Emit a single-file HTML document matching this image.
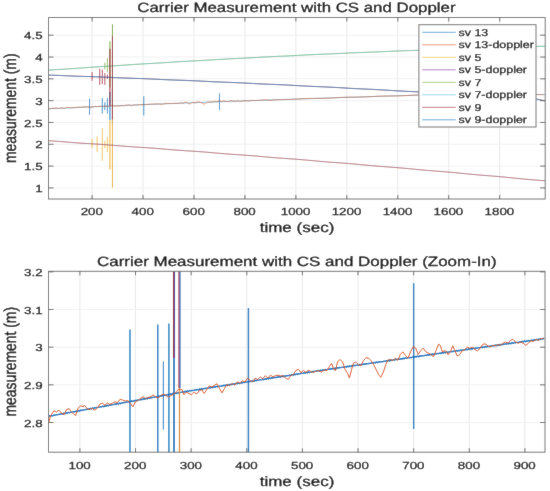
<!DOCTYPE html>
<html><head><meta charset="utf-8"><title>Carrier Measurement with CS and Doppler</title>
<style>html,body{margin:0;padding:0;background:#fff}svg{display:block}</style></head>
<body>
<svg width="550" height="491" viewBox="0 0 550 491" font-family="'Liberation Sans', Arial, sans-serif" text-rendering="geometricPrecision">
<rect width="550" height="491" fill="#fff"/>
<filter id="soft" x="0" y="0" width="550" height="491" filterUnits="userSpaceOnUse"><feConvolveMatrix order="3" kernelMatrix="0.012 0.055 0.012 0.055 0.732 0.055 0.012 0.055 0.012" divisor="1" edgeMode="duplicate" preserveAlpha="true"/></filter>
<g filter="url(#soft)">
<rect width="550" height="491" fill="#fff"/>
<defs><clipPath id="c1"><rect x="48.50" y="17.50" width="496.70" height="181.50"/></clipPath><clipPath id="c2"><rect x="48.50" y="271.30" width="496.50" height="180.90"/></clipPath></defs>
<line x1="92.09" y1="17.50" x2="92.09" y2="199.00" stroke="#e9e9e9" stroke-width="1" />
<line x1="143.04" y1="17.50" x2="143.04" y2="199.00" stroke="#e9e9e9" stroke-width="1" />
<line x1="193.99" y1="17.50" x2="193.99" y2="199.00" stroke="#e9e9e9" stroke-width="1" />
<line x1="244.94" y1="17.50" x2="244.94" y2="199.00" stroke="#e9e9e9" stroke-width="1" />
<line x1="295.89" y1="17.50" x2="295.89" y2="199.00" stroke="#e9e9e9" stroke-width="1" />
<line x1="346.84" y1="17.50" x2="346.84" y2="199.00" stroke="#e9e9e9" stroke-width="1" />
<line x1="397.79" y1="17.50" x2="397.79" y2="199.00" stroke="#e9e9e9" stroke-width="1" />
<line x1="448.74" y1="17.50" x2="448.74" y2="199.00" stroke="#e9e9e9" stroke-width="1" />
<line x1="499.69" y1="17.50" x2="499.69" y2="199.00" stroke="#e9e9e9" stroke-width="1" />
<line x1="48.50" y1="187.91" x2="545.20" y2="187.91" stroke="#f1f1f1" stroke-width="1" />
<line x1="48.50" y1="166.09" x2="545.20" y2="166.09" stroke="#f1f1f1" stroke-width="1" />
<line x1="48.50" y1="144.28" x2="545.20" y2="144.28" stroke="#f1f1f1" stroke-width="1" />
<line x1="48.50" y1="122.46" x2="545.20" y2="122.46" stroke="#f1f1f1" stroke-width="1" />
<line x1="48.50" y1="100.65" x2="545.20" y2="100.65" stroke="#f1f1f1" stroke-width="1" />
<line x1="48.50" y1="78.83" x2="545.20" y2="78.83" stroke="#f1f1f1" stroke-width="1" />
<line x1="48.50" y1="57.02" x2="545.20" y2="57.02" stroke="#f1f1f1" stroke-width="1" />
<line x1="48.50" y1="35.20" x2="545.20" y2="35.20" stroke="#f1f1f1" stroke-width="1" />
<g clip-path="url(#c1)">
<polyline points="48.53,108.83 50.05,108.75 51.58,108.68 53.11,108.61 54.64,108.54 56.17,108.47 57.70,108.40 59.22,108.33 60.75,108.26 62.28,108.19 63.81,108.12 65.34,108.05 66.87,107.98 68.40,107.91 69.92,107.84 71.45,107.77 72.98,107.70 74.51,107.63 76.04,107.56 77.57,107.49 79.10,107.42 80.62,107.35 82.15,107.28 83.68,107.21 85.21,107.14 86.74,107.07 88.27,107.00 89.79,106.93 91.32,106.86 92.85,106.79 94.38,106.72 95.91,106.65 97.44,106.58 98.97,106.51 100.49,106.44 102.02,106.37 103.55,106.30 105.08,106.23 106.61,106.16 108.14,106.10 109.67,106.03 111.19,105.96 112.72,105.89 114.25,105.82 115.78,105.75 117.31,105.69 118.84,105.63 120.36,105.57 121.89,105.51 123.42,105.45 124.95,105.39 126.48,105.33 128.01,105.27 129.54,105.21 131.06,105.15 132.59,105.09 134.12,105.03 135.65,104.97 137.18,104.91 138.71,104.85 140.24,104.79 141.76,104.73 143.29,104.67 144.82,104.60 146.35,104.54 147.88,104.48 149.41,104.42 150.93,104.36 152.46,104.30 153.99,104.24 155.52,104.18 157.05,104.12 158.58,104.06 160.11,104.00 161.63,103.94 163.16,103.88 164.69,103.82 166.22,103.76 167.75,103.70 169.28,103.64 170.81,103.58 172.33,103.52 173.86,103.46 175.39,103.40 176.92,103.34 178.45,103.28 179.98,103.23 181.50,103.17 183.03,103.12 184.56,103.06 186.09,103.00 187.62,102.95 189.15,102.89 190.68,102.84 192.20,102.78 193.73,102.73 195.26,102.67 196.79,102.61 198.32,102.56 199.85,102.50 201.38,102.45 202.90,102.39 204.43,102.34 205.96,102.28 207.49,102.22 209.02,102.17 210.55,102.11 212.07,102.06 213.60,102.00 215.13,101.95 216.66,101.89 218.19,101.83 219.72,101.78 221.25,101.72 222.77,101.67 224.30,101.61 225.83,101.56 227.36,101.50 228.89,101.45 230.42,101.39 231.95,101.33 233.47,101.28 235.00,101.22 236.53,101.17 238.06,101.11 239.59,101.06 241.12,101.00 242.64,100.95 244.17,100.90 245.70,100.84 247.23,100.79 248.76,100.73 250.29,100.68 251.82,100.63 253.34,100.57 254.87,100.52 256.40,100.46 257.93,100.41 259.46,100.35 260.99,100.30 262.52,100.25 264.04,100.19 265.57,100.14 267.10,100.08 268.63,100.03 270.16,99.98 271.69,99.92 273.21,99.87 274.74,99.81 276.27,99.76 277.80,99.70 279.33,99.65 280.86,99.60 282.39,99.55 283.91,99.50 285.44,99.44 286.97,99.39 288.50,99.34 290.03,99.29 291.56,99.24 293.09,99.19 294.61,99.14 296.14,99.08 297.67,99.03 299.20,98.98 300.73,98.93 302.26,98.88 303.78,98.83 305.31,98.77 306.84,98.72 308.37,98.67 309.90,98.62 311.43,98.57 312.96,98.52 314.48,98.46 316.01,98.41 317.54,98.36 319.07,98.31 320.60,98.26 322.13,98.21 323.66,98.16 325.18,98.10 326.71,98.05 328.24,98.00 329.77,97.95 331.30,97.90 332.83,97.85 334.35,97.79 335.88,97.74 337.41,97.69 338.94,97.64 340.47,97.59 342.00,97.54 343.53,97.48 345.05,97.43 346.58,97.38 348.11,97.33 349.64,97.28 351.17,97.24 352.70,97.19 354.23,97.14 355.75,97.09 357.28,97.04 358.81,96.99 360.34,96.95 361.87,96.90 363.40,96.85 364.92,96.80 366.45,96.75 367.98,96.70 369.51,96.66 371.04,96.61 372.57,96.56 374.10,96.51 375.62,96.46 377.15,96.42 378.68,96.37 380.21,96.32 381.74,96.27 383.27,96.22 384.80,96.17 386.32,96.13 387.85,96.08 389.38,96.03 390.91,95.98 392.44,95.93 393.97,95.88 395.49,95.84 397.02,95.79 398.55,95.74 400.08,95.69 401.61,95.64 403.14,95.59 404.67,95.55 406.19,95.50 407.72,95.45 409.25,95.40 410.78,95.35 412.31,95.31 413.84,95.26 415.37,95.21 416.89,95.16 418.42,95.11 419.95,95.09 421.48,95.08 423.01,95.07 424.54,95.06 426.06,95.04 427.59,95.03 429.12,95.02 430.65,95.00 432.18,94.99 433.71,94.98 435.24,94.97 436.76,94.95 438.29,94.94 439.82,94.93 441.35,94.92 442.88,94.90 444.41,94.89 445.94,94.88 447.46,94.86 448.99,94.85 450.52,94.84 452.05,94.83 453.58,94.81 455.11,94.80 456.63,94.79 458.16,94.78 459.69,94.76 461.22,94.75 462.75,94.74 464.28,94.73 465.81,94.71 467.33,94.70 468.86,94.69 470.39,94.67 471.92,94.66 473.45,94.65 474.98,94.64 476.51,94.62 478.03,94.61 479.56,94.60 481.09,94.59 482.62,94.57 484.15,94.56 485.68,94.55 487.20,94.54 488.73,94.54 490.26,94.54 491.79,94.54 493.32,94.54 494.85,94.54 496.38,94.54 497.90,94.54 499.43,94.54 500.96,94.54 502.49,94.54 504.02,94.54 505.55,94.54 507.08,94.54 508.60,94.54 510.13,94.54 511.66,94.54 513.19,94.54 514.72,94.54 516.25,94.54 517.77,94.54 519.30,94.54 520.83,94.54 522.36,94.54 523.89,94.54 525.42,94.54 526.95,94.54 528.47,94.54 530.00,94.54 531.53,94.54 533.06,94.54 534.59,94.54 536.12,94.54 537.65,94.54 539.17,94.54 540.70,94.54 542.23,94.54 543.76,94.54 545.29,94.54" fill="none" stroke="#0072BD" stroke-width="0.75" stroke-opacity="0.62" stroke-linejoin="round"/>
<line x1="89.54" y1="98.59" x2="89.54" y2="114.82" stroke="#0072BD" stroke-width="1.0" stroke-opacity="0.75"/>
<line x1="102.28" y1="98.03" x2="102.28" y2="113.73" stroke="#0072BD" stroke-width="1.0" stroke-opacity="0.75"/>
<line x1="104.83" y1="102.30" x2="104.83" y2="110.20" stroke="#0072BD" stroke-width="1.0" stroke-opacity="0.75"/>
<line x1="107.37" y1="97.90" x2="107.37" y2="113.73" stroke="#0072BD" stroke-width="1.0" stroke-opacity="0.75"/>
<line x1="109.92" y1="91.92" x2="109.92" y2="120.06" stroke="#0072BD" stroke-width="1.05" stroke-opacity="0.95"/>
<line x1="112.47" y1="87.56" x2="112.47" y2="124.64" stroke="#0072BD" stroke-width="1.05" stroke-opacity="0.95"/>
<line x1="143.80" y1="96.11" x2="143.80" y2="115.48" stroke="#0072BD" stroke-width="1.0" stroke-opacity="0.75"/>
<line x1="219.46" y1="93.23" x2="219.46" y2="110.11" stroke="#0072BD" stroke-width="1.0" stroke-opacity="0.75"/>
<polyline points="48.53,108.83 54.71,108.01 55.88,108.15 57.04,107.95 58.21,108.30 59.37,108.45 60.54,107.86 61.70,107.77 62.29,108.01 63.45,108.30 64.62,108.60 65.78,107.71 66.95,107.42 68.12,107.56 68.70,107.36 69.86,107.77 71.03,107.86 72.20,107.71 73.36,107.95 74.53,107.71 75.69,107.27 76.86,107.12 78.02,107.36 79.19,107.12 80.36,107.27 81.52,107.12 82.69,106.97 83.85,107.06 85.02,106.68 86.18,106.77 87.35,106.89 88.52,106.83 89.68,107.12 90.85,107.56 92.01,106.97 93.18,106.83 94.34,106.59 95.51,106.38 96.68,106.59 97.84,106.47 99.01,106.38 100.17,106.18 101.34,106.38 102.51,106.53 103.67,106.24 104.84,106.09 106.00,106.24 107.17,106.47 108.33,106.24 109.50,106.09 110.67,105.88 111.83,105.50 113.39,105.56 114.20,106.15 115.37,105.86 116.54,106.01 117.70,106.15 118.87,105.86 120.03,106.06 121.20,105.71 122.37,105.56 123.53,106.01 124.70,105.56 125.86,105.12 127.03,105.27 128.19,105.06 129.36,104.89 130.53,105.42 131.69,105.95 132.86,105.42 134.02,104.97 135.19,105.12 136.35,104.83 137.52,105.06 138.69,104.68 139.85,104.83 141.02,104.53 142.18,104.68 143.35,104.24 144.51,104.47 145.68,104.68 146.85,104.24 148.01,104.38 149.18,104.09 150.34,104.30 151.51,103.94 152.67,104.24 153.84,103.88 155.01,104.09 156.17,103.94 157.34,103.88 158.50,104.00 159.67,103.94 160.83,104.24 162.00,104.38 163.17,103.94 164.33,103.79 165.50,103.35 166.66,103.20 167.83,103.59 169.00,103.35 170.16,103.59 171.33,103.29 172.49,103.50 173.74,103.54 175.49,103.34 177.24,103.54 178.40,103.25 179.57,103.39 180.74,102.95 181.90,102.51 182.72,103.10 183.65,103.39 184.58,102.36 185.75,102.07 186.91,102.36 188.08,103.25 189.25,103.69 190.06,104.22 190.88,103.39 191.81,102.51 192.98,102.36 194.14,102.66 195.31,102.80 196.47,102.22 197.64,101.86 198.81,101.92 199.97,102.22 201.14,102.66 202.30,103.25 203.47,103.84 204.40,104.13 205.57,103.54 206.73,102.66 207.55,102.16 208.71,102.07 209.88,102.22 211.05,101.92 212.21,102.16 213.38,101.48 214.54,101.18 215.71,101.63 216.87,101.92 218.04,101.18 219.21,100.59 220.37,100.74 221.54,101.48 222.70,101.04 223.87,100.74 225.03,101.18 226.20,101.33 227.37,101.48 228.53,101.77 229.70,101.04 230.86,100.30 231.68,100.45 232.61,101.18 233.78,101.04 234.11,101.08 235.28,101.52 236.44,101.08 237.38,100.49 238.19,100.93 239.36,101.67 240.52,101.52 241.69,101.08 242.85,100.93 244.02,100.64 245.19,100.78 246.35,100.64 247.52,100.93 248.68,101.08 249.85,100.78 251.01,100.34 252.18,100.25 253.35,100.49 254.51,100.64 255.68,100.43 256.84,100.49 258.01,100.34 259.18,100.43 260.34,100.19 261.51,100.05 262.67,100.19 263.84,99.84 265.00,99.75 266.17,100.05 267.34,100.19 268.50,100.05 269.67,100.19 270.83,100.43 272.00,100.19 273.16,99.90 274.33,99.99 275.50,99.75 276.66,99.84 277.83,99.66 278.99,99.60 280.60,99.61 282.64,99.60 284.68,99.59 286.72,99.56 288.75,99.51 290.79,99.44 292.83,99.34 294.87,99.24 296.91,99.11 298.94,98.99 300.98,98.86 303.02,98.74 305.06,98.63 307.10,98.54 309.13,98.47 311.17,98.43 313.21,98.40 315.25,98.38 317.29,98.37 319.32,98.36 321.36,98.35 323.40,98.32 325.44,98.27 327.48,98.20 329.51,98.11 331.55,98.00 333.59,97.88 335.63,97.75 337.67,97.62 339.70,97.50 341.74,97.39 343.78,97.30 345.82,97.23 347.86,97.19 349.89,97.16 351.93,97.15 353.97,97.14 356.01,97.14 358.05,97.13 360.08,97.10 362.12,97.06 364.16,97.00 366.20,96.91 368.24,96.81 370.27,96.70 372.31,96.57 374.35,96.45 376.39,96.33 378.43,96.23 380.46,96.14 382.50,96.07 384.54,96.03 386.58,96.00 388.62,95.99 390.65,95.98 392.69,95.98 394.73,95.97 396.77,95.94 398.81,95.90 400.84,95.84 402.88,95.76 404.92,95.66 406.96,95.54 409.00,95.42 411.03,95.29 413.07,95.18 415.11,95.07 417.15,94.98 419.19,94.93 421.22,94.93 423.26,94.95 425.30,94.98 427.34,95.02 429.38,95.06 431.41,95.10 433.45,95.13 435.49,95.13 437.53,95.12 439.57,95.09 441.60,95.03 443.64,94.97 445.68,94.89 447.72,94.82 449.76,94.74 451.79,94.68 453.83,94.64 455.87,94.62 457.91,94.62 459.95,94.64 461.98,94.67 464.02,94.71 466.06,94.76 468.10,94.79 470.14,94.82 472.17,94.83 474.21,94.82 476.25,94.78 478.29,94.73 480.33,94.67 482.36,94.59 484.40,94.51 486.44,94.44 488.48,94.39 490.52,94.37 492.55,94.36 494.59,94.38 496.63,94.41 498.67,94.46 500.71,94.52 502.74,94.58 504.78,94.63 506.82,94.68 508.86,94.70 510.90,94.71 512.93,94.70 514.97,94.66 517.01,94.61 519.05,94.56 521.09,94.50 523.12,94.44 525.16,94.40 527.20,94.37 529.24,94.36 531.28,94.38 533.31,94.41 535.35,94.46 537.39,94.51 539.43,94.57 541.47,94.63 543.50,94.68" fill="none" stroke="#D95319" stroke-width="0.75" stroke-opacity="0.75" stroke-linejoin="round"/>
<polyline points="48.53,140.78 50.05,140.89 51.58,141.00 53.11,141.10 54.64,141.21 56.17,141.31 57.70,141.42 59.22,141.53 60.75,141.63 62.28,141.74 63.81,141.84 65.34,141.95 66.87,142.06 68.40,142.16 69.92,142.27 71.45,142.38 72.98,142.49 74.51,142.59 76.04,142.70 77.57,142.81 79.10,142.92 80.62,143.02 82.15,143.13 83.68,143.24 85.21,143.35 86.74,143.46 88.27,143.56 89.79,143.67 91.32,143.78 92.85,143.89 94.38,144.00 95.91,144.11 97.44,144.22 98.97,144.32 100.49,144.43 102.02,144.54 103.55,144.65 105.08,144.76 106.61,144.87 108.14,144.98 109.67,145.09 111.19,145.20 112.72,145.31 114.25,145.42 115.78,145.53 117.31,145.64 118.84,145.75 120.36,145.86 121.89,145.97 123.42,146.08 124.95,146.20 126.48,146.31 128.01,146.42 129.54,146.53 131.06,146.64 132.59,146.75 134.12,146.86 135.65,146.97 137.18,147.09 138.71,147.20 140.24,147.31 141.76,147.42 143.29,147.53 144.82,147.65 146.35,147.76 147.88,147.87 149.41,147.99 150.93,148.10 152.46,148.21 153.99,148.32 155.52,148.44 157.05,148.55 158.58,148.66 160.11,148.78 161.63,148.89 163.16,149.00 164.69,149.12 166.22,149.23 167.75,149.35 169.28,149.46 170.81,149.57 172.33,149.69 173.86,149.80 175.39,149.92 176.92,150.03 178.45,150.15 179.98,150.26 181.50,150.38 183.03,150.49 184.56,150.61 186.09,150.72 187.62,150.84 189.15,150.95 190.68,151.07 192.20,151.19 193.73,151.30 195.26,151.42 196.79,151.53 198.32,151.65 199.85,151.77 201.38,151.88 202.90,152.00 204.43,152.12 205.96,152.23 207.49,152.35 209.02,152.47 210.55,152.58 212.07,152.70 213.60,152.82 215.13,152.94 216.66,153.05 218.19,153.17 219.72,153.29 221.25,153.41 222.77,153.53 224.30,153.64 225.83,153.76 227.36,153.88 228.89,154.00 230.42,154.12 231.95,154.24 233.47,154.36 235.00,154.47 236.53,154.59 238.06,154.71 239.59,154.83 241.12,154.95 242.64,155.07 244.17,155.19 245.70,155.31 247.23,155.43 248.76,155.55 250.29,155.67 251.82,155.79 253.34,155.91 254.87,156.03 256.40,156.15 257.93,156.27 259.46,156.39 260.99,156.51 262.52,156.63 264.04,156.76 265.57,156.88 267.10,157.00 268.63,157.12 270.16,157.24 271.69,157.36 273.21,157.48 274.74,157.61 276.27,157.73 277.80,157.85 279.33,157.97 280.86,158.09 282.39,158.22 283.91,158.34 285.44,158.46 286.97,158.59 288.50,158.71 290.03,158.83 291.56,158.95 293.09,159.08 294.61,159.20 296.14,159.32 297.67,159.45 299.20,159.57 300.73,159.69 302.26,159.82 303.78,159.94 305.31,160.07 306.84,160.19 308.37,160.31 309.90,160.44 311.43,160.56 312.96,160.69 314.48,160.81 316.01,160.94 317.54,161.06 319.07,161.19 320.60,161.31 322.13,161.44 323.66,161.56 325.18,161.69 326.71,161.82 328.24,161.94 329.77,162.07 331.30,162.19 332.83,162.32 334.35,162.44 335.88,162.57 337.41,162.70 338.94,162.82 340.47,162.95 342.00,163.08 343.53,163.20 345.05,163.33 346.58,163.46 348.11,163.59 349.64,163.71 351.17,163.84 352.70,163.97 354.23,164.10 355.75,164.22 357.28,164.35 358.81,164.48 360.34,164.61 361.87,164.74 363.40,164.86 364.92,164.99 366.45,165.12 367.98,165.25 369.51,165.38 371.04,165.51 372.57,165.64 374.10,165.76 375.62,165.89 377.15,166.02 378.68,166.15 380.21,166.28 381.74,166.41 383.27,166.54 384.80,166.67 386.32,166.80 387.85,166.93 389.38,167.06 390.91,167.19 392.44,167.32 393.97,167.45 395.49,167.58 397.02,167.71 398.55,167.84 400.08,167.98 401.61,168.11 403.14,168.24 404.67,168.37 406.19,168.50 407.72,168.63 409.25,168.76 410.78,168.90 412.31,169.03 413.84,169.16 415.37,169.29 416.89,169.42 418.42,169.56 419.95,169.69 421.48,169.82 423.01,169.95 424.54,170.09 426.06,170.22 427.59,170.35 429.12,170.49 430.65,170.62 432.18,170.75 433.71,170.88 435.24,171.02 436.76,171.15 438.29,171.29 439.82,171.42 441.35,171.55 442.88,171.69 444.41,171.82 445.94,171.96 447.46,172.09 448.99,172.23 450.52,172.36 452.05,172.49 453.58,172.63 455.11,172.76 456.63,172.90 458.16,173.03 459.69,173.17 461.22,173.31 462.75,173.44 464.28,173.58 465.81,173.71 467.33,173.85 468.86,173.98 470.39,174.12 471.92,174.26 473.45,174.39 474.98,174.53 476.51,174.67 478.03,174.80 479.56,174.94 481.09,175.08 482.62,175.21 484.15,175.35 485.68,175.49 487.20,175.62 488.73,175.76 490.26,175.90 491.79,176.04 493.32,176.17 494.85,176.31 496.38,176.45 497.90,176.59 499.43,176.73 500.96,176.87 502.49,177.00 504.02,177.14 505.55,177.28 507.08,177.42 508.60,177.56 510.13,177.70 511.66,177.84 513.19,177.98 514.72,178.11 516.25,178.25 517.77,178.39 519.30,178.53 520.83,178.67 522.36,178.81 523.89,178.95 525.42,179.09 526.95,179.23 528.47,179.37 530.00,179.51 531.53,179.65 533.06,179.80 534.59,179.94 536.12,180.08 537.65,180.22 539.17,180.36 540.70,180.50 542.23,180.64 543.76,180.78 545.29,180.92" fill="none" stroke="#EDB120" stroke-width="0.75" stroke-opacity="0.62" stroke-linejoin="round"/>
<line x1="92.09" y1="139.04" x2="92.09" y2="148.20" stroke="#EDB120" stroke-width="1.0" stroke-opacity="0.75"/>
<line x1="97.18" y1="136.42" x2="97.18" y2="152.13" stroke="#EDB120" stroke-width="1.0" stroke-opacity="0.75"/>
<line x1="102.28" y1="128.13" x2="102.28" y2="160.85" stroke="#EDB120" stroke-width="1.0" stroke-opacity="0.75"/>
<line x1="104.83" y1="141.00" x2="104.83" y2="148.20" stroke="#EDB120" stroke-width="1.0" stroke-opacity="0.75"/>
<line x1="107.37" y1="136.86" x2="107.37" y2="152.13" stroke="#EDB120" stroke-width="1.0" stroke-opacity="0.75"/>
<line x1="109.92" y1="120.28" x2="109.92" y2="169.41" stroke="#EDB120" stroke-width="1.05" stroke-opacity="0.95"/>
<line x1="112.47" y1="102.83" x2="112.47" y2="187.47" stroke="#EDB120" stroke-width="1.05" stroke-opacity="0.95"/>
<polyline points="48.53,140.68 50.05,140.77 51.58,140.87 53.11,140.97 54.64,141.08 56.17,141.19 57.70,141.31 59.22,141.43 60.75,141.55 62.28,141.68 63.81,141.81 65.34,141.94 66.87,142.07 68.40,142.20 69.92,142.33 71.45,142.46 72.98,142.59 74.51,142.71 76.04,142.83 77.57,142.94 79.10,143.05 80.62,143.15 82.15,143.25 83.68,143.34 85.21,143.43 86.74,143.52 88.27,143.60 89.79,143.69 91.32,143.77 92.85,143.85 94.38,143.94 95.91,144.03 97.44,144.12 98.97,144.21 100.49,144.31 102.02,144.41 103.55,144.52 105.08,144.63 106.61,144.75 108.14,144.88 109.67,145.00 111.19,145.13 112.72,145.26 114.25,145.40 115.78,145.53 117.31,145.67 118.84,145.80 120.36,145.94 121.89,146.07 123.42,146.19 124.95,146.32 126.48,146.43 128.01,146.55 129.54,146.66 131.06,146.76 132.59,146.86 134.12,146.96 135.65,147.05 137.18,147.14 138.71,147.23 140.24,147.31 141.76,147.40 143.29,147.49 144.82,147.58 146.35,147.67 147.88,147.77 149.41,147.87 150.93,147.97 152.46,148.08 153.99,148.19 155.52,148.31 157.05,148.44 158.58,148.57 160.11,148.70 161.63,148.83 163.16,148.97 164.69,149.11 166.22,149.25 167.75,149.39 169.28,149.53 170.81,149.66 172.33,149.79 173.86,149.92 175.39,150.04 176.92,150.16 178.45,150.28 179.98,150.39 181.50,150.49 183.03,150.59 184.56,150.69 186.09,150.79 187.62,150.88 189.15,150.97 190.68,151.06 192.20,151.15 193.73,151.24 195.26,151.34 196.79,151.44 198.32,151.54 199.85,151.64 201.38,151.75 202.90,151.87 204.43,151.99 205.96,152.12 207.49,152.25 209.02,152.38 210.55,152.52 212.07,152.66 213.60,152.80 215.13,152.94 216.66,153.09 218.19,153.23 219.72,153.37 221.25,153.50 222.77,153.64 224.30,153.77 225.83,153.89 227.36,154.01 228.89,154.13 230.42,154.24 231.95,154.35 233.47,154.45 235.00,154.55 236.53,154.64 238.06,154.74 239.59,154.83 241.12,154.93 242.64,155.02 244.17,155.12 245.70,155.22 247.23,155.32 248.76,155.43 250.29,155.54 251.82,155.66 253.34,155.78 254.87,155.91 256.40,156.04 257.93,156.18 259.46,156.32 260.99,156.46 262.52,156.60 264.04,156.75 265.57,156.90 267.10,157.04 268.63,157.19 270.16,157.33 271.69,157.47 273.21,157.60 274.74,157.73 276.27,157.86 277.80,157.98 279.33,158.10 280.86,158.21 282.39,158.32 283.91,158.42 285.44,158.52 286.97,158.62 288.50,158.72 290.03,158.82 291.56,158.92 293.09,159.02 294.61,159.12 296.14,159.22 297.67,159.33 299.20,159.45 300.73,159.56 302.26,159.69 303.78,159.82 305.31,159.95 306.84,160.09 308.37,160.23 309.90,160.37 311.43,160.52 312.96,160.67 314.48,160.82 316.01,160.97 317.54,161.12 319.07,161.27 320.60,161.41 322.13,161.55 323.66,161.69 325.18,161.82 326.71,161.95 328.24,162.07 329.77,162.19 331.30,162.30 332.83,162.41 334.35,162.52 335.88,162.62 337.41,162.72 338.94,162.82 340.47,162.92 342.00,163.03 343.53,163.13 345.05,163.24 346.58,163.35 348.11,163.46 349.64,163.58 351.17,163.71 352.70,163.84 354.23,163.97 355.75,164.11 357.28,164.26 358.81,164.40 360.34,164.55 361.87,164.71 363.40,164.86 364.92,165.01 366.45,165.17 367.98,165.32 369.51,165.47 371.04,165.61 372.57,165.75 374.10,165.89 375.62,166.02 377.15,166.15 378.68,166.28 380.21,166.40 381.74,166.51 383.27,166.62 384.80,166.73 386.32,166.84 387.85,166.94 389.38,167.05 390.91,167.15 392.44,167.26 393.97,167.37 395.49,167.48 397.02,167.60 398.55,167.72 400.08,167.85 401.61,167.98 403.14,168.11 404.67,168.25 406.19,168.40 407.72,168.55 409.25,168.70 410.78,168.85 412.31,169.01 413.84,169.17 415.37,169.33 416.89,169.48 418.42,169.64 419.95,169.79 421.48,169.93 423.01,170.08 424.54,170.22 426.06,170.35 427.59,170.48 429.12,170.60 430.65,170.72 432.18,170.84 433.71,170.95 435.24,171.06 436.76,171.17 438.29,171.28 439.82,171.39 441.35,171.50 442.88,171.61 444.41,171.73 445.94,171.85 447.46,171.97 448.99,172.10 450.52,172.23 452.05,172.37 453.58,172.51 455.11,172.66 456.63,172.81 458.16,172.96 459.69,173.12 461.22,173.28 462.75,173.44 464.28,173.60 465.81,173.76 467.33,173.92 468.86,174.07 470.39,174.23 471.92,174.38 473.45,174.52 474.98,174.66 476.51,174.79 478.03,174.93 479.56,175.05 481.09,175.17 482.62,175.29 484.15,175.41 485.68,175.52 487.20,175.63 488.73,175.74 490.26,175.86 491.79,175.97 493.32,176.09 494.85,176.21 496.38,176.33 497.90,176.46 499.43,176.60 500.96,176.73 502.49,176.88 504.02,177.03 505.55,177.18 507.08,177.34 508.60,177.50 510.13,177.66 511.66,177.82 513.19,177.99 514.72,178.15 516.25,178.31 517.77,178.47 519.30,178.63 520.83,178.79 522.36,178.94 523.89,179.08 525.42,179.22 526.95,179.36 528.47,179.49 530.00,179.62 531.53,179.74 533.06,179.86 534.59,179.98 536.12,180.10 537.65,180.21 539.17,180.33 540.70,180.45 542.23,180.57 543.76,180.69 545.29,180.81" fill="none" stroke="#7E2F8E" stroke-width="0.75" stroke-opacity="0.75" stroke-linejoin="round"/>
<polyline points="48.53,70.24 50.05,70.13 51.58,70.02 53.11,69.92 54.64,69.81 56.17,69.70 57.70,69.59 59.22,69.49 60.75,69.38 62.28,69.27 63.81,69.16 65.34,69.06 66.87,68.95 68.40,68.85 69.92,68.74 71.45,68.63 72.98,68.53 74.51,68.42 76.04,68.32 77.57,68.21 79.10,68.11 80.62,68.01 82.15,67.90 83.68,67.80 85.21,67.70 86.74,67.59 88.27,67.49 89.79,67.39 91.32,67.28 92.85,67.18 94.38,67.08 95.91,66.98 97.44,66.87 98.97,66.77 100.49,66.67 102.02,66.57 103.55,66.47 105.08,66.37 106.61,66.27 108.14,66.17 109.67,66.07 111.19,65.97 112.72,65.87 114.25,65.77 115.78,65.67 117.31,65.57 118.84,65.47 120.36,65.37 121.89,65.28 123.42,65.18 124.95,65.08 126.48,64.98 128.01,64.88 129.54,64.79 131.06,64.69 132.59,64.59 134.12,64.50 135.65,64.40 137.18,64.30 138.71,64.21 140.24,64.11 141.76,64.02 143.29,63.92 144.82,63.83 146.35,63.73 147.88,63.64 149.41,63.54 150.93,63.45 152.46,63.35 153.99,63.26 155.52,63.17 157.05,63.07 158.58,62.98 160.11,62.89 161.63,62.80 163.16,62.70 164.69,62.61 166.22,62.52 167.75,62.43 169.28,62.34 170.81,62.24 172.33,62.15 173.86,62.06 175.39,61.97 176.92,61.88 178.45,61.79 179.98,61.70 181.50,61.61 183.03,61.52 184.56,61.43 186.09,61.34 187.62,61.25 189.15,61.16 190.68,61.08 192.20,60.99 193.73,60.90 195.26,60.81 196.79,60.72 198.32,60.64 199.85,60.55 201.38,60.46 202.90,60.37 204.43,60.29 205.96,60.20 207.49,60.11 209.02,60.03 210.55,59.94 212.07,59.86 213.60,59.77 215.13,59.69 216.66,59.60 218.19,59.52 219.72,59.43 221.25,59.35 222.77,59.26 224.30,59.18 225.83,59.10 227.36,59.01 228.89,58.93 230.42,58.85 231.95,58.76 233.47,58.68 235.00,58.60 236.53,58.52 238.06,58.43 239.59,58.35 241.12,58.27 242.64,58.19 244.17,58.11 245.70,58.03 247.23,57.95 248.76,57.87 250.29,57.79 251.82,57.71 253.34,57.63 254.87,57.55 256.40,57.47 257.93,57.39 259.46,57.31 260.99,57.23 262.52,57.15 264.04,57.07 265.57,57.00 267.10,56.92 268.63,56.84 270.16,56.76 271.69,56.68 273.21,56.61 274.74,56.53 276.27,56.45 277.80,56.38 279.33,56.30 280.86,56.22 282.39,56.15 283.91,56.07 285.44,56.00 286.97,55.92 288.50,55.85 290.03,55.77 291.56,55.70 293.09,55.62 294.61,55.55 296.14,55.48 297.67,55.40 299.20,55.33 300.73,55.25 302.26,55.18 303.78,55.11 305.31,55.04 306.84,54.96 308.37,54.89 309.90,54.82 311.43,54.75 312.96,54.68 314.48,54.60 316.01,54.53 317.54,54.46 319.07,54.39 320.60,54.32 322.13,54.25 323.66,54.18 325.18,54.11 326.71,54.04 328.24,53.97 329.77,53.90 331.30,53.83 332.83,53.76 334.35,53.69 335.88,53.63 337.41,53.56 338.94,53.49 340.47,53.42 342.00,53.35 343.53,53.29 345.05,53.22 346.58,53.15 348.11,53.08 349.64,53.02 351.17,52.95 352.70,52.88 354.23,52.82 355.75,52.75 357.28,52.69 358.81,52.62 360.34,52.56 361.87,52.49 363.40,52.43 364.92,52.36 366.45,52.30 367.98,52.23 369.51,52.17 371.04,52.11 372.57,52.04 374.10,51.98 375.62,51.92 377.15,51.85 378.68,51.79 380.21,51.73 381.74,51.67 383.27,51.60 384.80,51.54 386.32,51.48 387.85,51.42 389.38,51.36 390.91,51.30 392.44,51.23 393.97,51.17 395.49,51.11 397.02,51.05 398.55,50.99 400.08,50.93 401.61,50.87 403.14,50.81 404.67,50.75 406.19,50.70 407.72,50.64 409.25,50.58 410.78,50.52 412.31,50.46 413.84,50.40 415.37,50.35 416.89,50.29 418.42,50.23 419.95,50.17 421.48,50.12 423.01,50.06 424.54,50.00 426.06,49.95 427.59,49.89 429.12,49.83 430.65,49.78 432.18,49.72 433.71,49.67 435.24,49.61 436.76,49.56 438.29,49.50 439.82,49.45 441.35,49.39 442.88,49.34 444.41,49.29 445.94,49.23 447.46,49.18 448.99,49.12 450.52,49.07 452.05,49.02 453.58,48.97 455.11,48.91 456.63,48.86 458.16,48.81 459.69,48.76 461.22,48.71 462.75,48.65 464.28,48.60 465.81,48.55 467.33,48.50 468.86,48.45 470.39,48.40 471.92,48.35 473.45,48.30 474.98,48.25 476.51,48.20 478.03,48.15 479.56,48.10 481.09,48.05 482.62,48.00 484.15,47.95 485.68,47.91 487.20,47.86 488.73,47.81 490.26,47.76 491.79,47.71 493.32,47.67 494.85,47.62 496.38,47.57 497.90,47.52 499.43,47.48 500.96,47.43 502.49,47.38 504.02,47.34 505.55,47.29 507.08,47.25 508.60,47.20 510.13,47.16 511.66,47.11 513.19,47.07 514.72,47.02 516.25,46.98 517.77,46.93 519.30,46.89 520.83,46.85 522.36,46.80 523.89,46.76 525.42,46.71 526.95,46.67 528.47,46.63 530.00,46.59 531.53,46.54 533.06,46.50 534.59,46.46 536.12,46.42 537.65,46.38 539.17,46.33 540.70,46.29 542.23,46.25 543.76,46.21 545.29,46.17" fill="none" stroke="#77AC30" stroke-width="0.75" stroke-opacity="0.85" stroke-linejoin="round"/>
<line x1="104.83" y1="62.69" x2="104.83" y2="69.23" stroke="#77AC30" stroke-width="1.0" stroke-opacity="0.75"/>
<line x1="107.37" y1="58.11" x2="107.37" y2="72.29" stroke="#77AC30" stroke-width="1.0" stroke-opacity="0.75"/>
<line x1="109.92" y1="41.31" x2="109.92" y2="87.56" stroke="#77AC30" stroke-width="1.05" stroke-opacity="0.95"/>
<line x1="112.47" y1="24.29" x2="112.47" y2="105.01" stroke="#77AC30" stroke-width="1.05" stroke-opacity="0.95"/>
<polyline points="48.53,70.13 50.05,70.01 51.58,69.89 53.11,69.79 54.64,69.69 56.17,69.59 57.70,69.50 59.22,69.42 60.75,69.34 62.28,69.26 63.81,69.18 65.34,69.11 66.87,69.03 68.40,68.94 69.92,68.85 71.45,68.76 72.98,68.66 74.51,68.55 76.04,68.44 77.57,68.32 79.10,68.20 80.62,68.07 82.15,67.94 83.68,67.81 85.21,67.68 86.74,67.55 88.27,67.42 89.79,67.29 91.32,67.17 92.85,67.06 94.38,66.95 95.91,66.85 97.44,66.75 98.97,66.66 100.49,66.58 102.02,66.50 103.55,66.42 105.08,66.35 106.61,66.28 108.14,66.21 109.67,66.14 111.19,66.06 112.72,65.98 114.25,65.89 115.78,65.80 117.31,65.70 118.84,65.60 120.36,65.49 121.89,65.37 123.42,65.25 124.95,65.13 126.48,65.00 128.01,64.88 129.54,64.75 131.06,64.63 132.59,64.51 134.12,64.39 135.65,64.28 137.18,64.18 138.71,64.08 140.24,63.99 141.76,63.90 143.29,63.82 144.82,63.75 146.35,63.68 147.88,63.61 149.41,63.55 150.93,63.48 152.46,63.42 153.99,63.35 155.52,63.27 157.05,63.19 158.58,63.11 160.11,63.02 161.63,62.92 163.16,62.82 164.69,62.71 166.22,62.60 167.75,62.48 169.28,62.36 170.81,62.24 172.33,62.12 173.86,62.01 175.39,61.89 176.92,61.78 178.45,61.67 179.98,61.57 181.50,61.48 183.03,61.39 184.56,61.31 186.09,61.24 187.62,61.17 189.15,61.10 190.68,61.04 192.20,60.98 193.73,60.92 195.26,60.86 196.79,60.80 198.32,60.73 199.85,60.66 201.38,60.59 202.90,60.51 204.43,60.42 205.96,60.32 207.49,60.22 209.02,60.12 210.55,60.01 212.07,59.89 213.60,59.78 215.13,59.67 216.66,59.55 218.19,59.44 219.72,59.34 221.25,59.23 222.77,59.14 224.30,59.05 225.83,58.97 227.36,58.89 228.89,58.82 230.42,58.76 231.95,58.70 233.47,58.64 235.00,58.59 236.53,58.53 238.06,58.48 239.59,58.42 241.12,58.37 242.64,58.30 244.17,58.23 245.70,58.16 247.23,58.08 248.76,57.99 250.29,57.90 251.82,57.80 253.34,57.70 254.87,57.59 256.40,57.48 257.93,57.37 259.46,57.27 260.99,57.16 262.52,57.06 264.04,56.96 265.57,56.87 267.10,56.79 268.63,56.71 270.16,56.64 271.69,56.57 273.21,56.51 274.74,56.46 276.27,56.41 277.80,56.36 279.33,56.31 280.86,56.26 282.39,56.21 283.91,56.16 285.44,56.11 286.97,56.04 288.50,55.98 290.03,55.90 291.56,55.82 293.09,55.74 294.61,55.65 296.14,55.55 297.67,55.45 299.20,55.35 300.73,55.25 302.26,55.15 303.78,55.05 305.31,54.95 306.84,54.86 308.37,54.77 309.90,54.69 311.43,54.62 312.96,54.55 314.48,54.49 316.01,54.43 317.54,54.38 319.07,54.34 320.60,54.29 322.13,54.25 323.66,54.21 325.18,54.17 326.71,54.12 328.24,54.07 329.77,54.02 331.30,53.96 332.83,53.89 334.35,53.82 335.88,53.74 337.41,53.66 338.94,53.57 340.47,53.48 342.00,53.38 343.53,53.29 345.05,53.19 346.58,53.10 348.11,53.01 349.64,52.92 351.17,52.84 352.70,52.76 354.23,52.69 355.75,52.62 357.28,52.57 358.81,52.52 360.34,52.47 361.87,52.43 363.40,52.39 364.92,52.36 366.45,52.32 367.98,52.28 369.51,52.25 371.04,52.20 372.57,52.16 374.10,52.10 375.62,52.05 377.15,51.98 378.68,51.91 380.21,51.84 381.74,51.75 383.27,51.67 384.80,51.58 386.32,51.49 387.85,51.40 389.38,51.31 390.91,51.22 392.44,51.14 393.97,51.06 395.49,50.99 397.02,50.92 398.55,50.86 400.08,50.81 401.61,50.76 403.14,50.72 404.67,50.69 406.19,50.65 407.72,50.62 409.25,50.59 410.78,50.56 412.31,50.53 413.84,50.50 415.37,50.46 416.89,50.41 418.42,50.36 419.95,50.30 421.48,50.24 423.01,50.17 424.54,50.10 426.06,50.02 427.59,49.94 429.12,49.85 430.65,49.77 432.18,49.68 433.71,49.60 435.24,49.52 436.76,49.45 438.29,49.38 439.82,49.32 441.35,49.26 442.88,49.21 444.41,49.17 445.94,49.13 447.46,49.10 448.99,49.07 450.52,49.05 452.05,49.03 453.58,49.00 455.11,48.98 456.63,48.95 458.16,48.91 459.69,48.88 461.22,48.83 462.75,48.78 464.28,48.73 465.81,48.67 467.33,48.60 468.86,48.53 470.39,48.45 471.92,48.38 473.45,48.30 474.98,48.22 476.51,48.14 478.03,48.07 479.56,48.00 481.09,47.93 482.62,47.87 484.15,47.82 485.68,47.78 487.20,47.74 488.73,47.71 490.26,47.68 491.79,47.66 493.32,47.64 494.85,47.62 496.38,47.60 497.90,47.58 499.43,47.56 500.96,47.53 502.49,47.50 504.02,47.47 505.55,47.42 507.08,47.38 508.60,47.32 510.13,47.26 511.66,47.20 513.19,47.13 514.72,47.06 516.25,46.98 517.77,46.91 519.30,46.84 520.83,46.77 522.36,46.70 523.89,46.64 525.42,46.59 526.95,46.54 528.47,46.50 530.00,46.46 531.53,46.44 533.06,46.41 534.59,46.39 536.12,46.38 537.65,46.37 539.17,46.35 540.70,46.34 542.23,46.32 543.76,46.31 545.29,46.28" fill="none" stroke="#4DBEEE" stroke-width="0.75" stroke-opacity="0.6" stroke-linejoin="round"/>
<polyline points="48.53,75.13 50.05,75.18 51.58,75.24 53.11,75.29 54.64,75.34 56.17,75.40 57.70,75.45 59.22,75.51 60.75,75.56 62.28,75.62 63.81,75.67 65.34,75.73 66.87,75.78 68.40,75.84 69.92,75.89 71.45,75.95 72.98,76.00 74.51,76.06 76.04,76.12 77.57,76.17 79.10,76.23 80.62,76.28 82.15,76.34 83.68,76.40 85.21,76.45 86.74,76.51 88.27,76.57 89.79,76.62 91.32,76.68 92.85,76.74 94.38,76.80 95.91,76.85 97.44,76.91 98.97,76.97 100.49,77.03 102.02,77.09 103.55,77.14 105.08,77.20 106.61,77.26 108.14,77.32 109.67,77.38 111.19,77.44 112.72,77.50 114.25,77.56 115.78,77.62 117.31,77.68 118.84,77.73 120.36,77.79 121.89,77.85 123.42,77.91 124.95,77.97 126.48,78.03 128.01,78.09 129.54,78.16 131.06,78.22 132.59,78.28 134.12,78.34 135.65,78.40 137.18,78.46 138.71,78.52 140.24,78.58 141.76,78.64 143.29,78.71 144.82,78.77 146.35,78.83 147.88,78.89 149.41,78.95 150.93,79.02 152.46,79.08 153.99,79.14 155.52,79.20 157.05,79.27 158.58,79.33 160.11,79.39 161.63,79.46 163.16,79.52 164.69,79.58 166.22,79.65 167.75,79.71 169.28,79.77 170.81,79.84 172.33,79.90 173.86,79.97 175.39,80.03 176.92,80.10 178.45,80.16 179.98,80.23 181.50,80.29 183.03,80.36 184.56,80.42 186.09,80.49 187.62,80.55 189.15,80.62 190.68,80.68 192.20,80.75 193.73,80.82 195.26,80.88 196.79,80.95 198.32,81.01 199.85,81.08 201.38,81.15 202.90,81.21 204.43,81.28 205.96,81.35 207.49,81.42 209.02,81.48 210.55,81.55 212.07,81.62 213.60,81.69 215.13,81.75 216.66,81.82 218.19,81.89 219.72,81.96 221.25,82.03 222.77,82.09 224.30,82.16 225.83,82.23 227.36,82.30 228.89,82.37 230.42,82.44 231.95,82.51 233.47,82.58 235.00,82.65 236.53,82.72 238.06,82.79 239.59,82.86 241.12,82.93 242.64,83.00 244.17,83.07 245.70,83.14 247.23,83.21 248.76,83.28 250.29,83.35 251.82,83.42 253.34,83.49 254.87,83.56 256.40,83.63 257.93,83.71 259.46,83.78 260.99,83.85 262.52,83.92 264.04,83.99 265.57,84.07 267.10,84.14 268.63,84.21 270.16,84.28 271.69,84.36 273.21,84.43 274.74,84.50 276.27,84.57 277.80,84.65 279.33,84.72 280.86,84.80 282.39,84.87 283.91,84.94 285.44,85.02 286.97,85.09 288.50,85.16 290.03,85.24 291.56,85.31 293.09,85.39 294.61,85.46 296.14,85.54 297.67,85.61 299.20,85.69 300.73,85.76 302.26,85.84 303.78,85.91 305.31,85.99 306.84,86.06 308.37,86.14 309.90,86.22 311.43,86.29 312.96,86.37 314.48,86.45 316.01,86.52 317.54,86.60 319.07,86.67 320.60,86.75 322.13,86.83 323.66,86.91 325.18,86.98 326.71,87.06 328.24,87.14 329.77,87.22 331.30,87.29 332.83,87.37 334.35,87.45 335.88,87.53 337.41,87.61 338.94,87.68 340.47,87.76 342.00,87.84 343.53,87.92 345.05,88.00 346.58,88.08 348.11,88.16 349.64,88.24 351.17,88.32 352.70,88.40 354.23,88.48 355.75,88.56 357.28,88.64 358.81,88.72 360.34,88.80 361.87,88.88 363.40,88.96 364.92,89.04 366.45,89.12 367.98,89.20 369.51,89.28 371.04,89.36 372.57,89.44 374.10,89.53 375.62,89.61 377.15,89.69 378.68,89.77 380.21,89.85 381.74,89.94 383.27,90.02 384.80,90.10 386.32,90.18 387.85,90.27 389.38,90.35 390.91,90.43 392.44,90.51 393.97,90.60 395.49,90.68 397.02,90.76 398.55,90.85 400.08,90.93 401.61,91.02 403.14,91.10 404.67,91.18 406.19,91.27 407.72,91.35 409.25,91.44 410.78,91.52 412.31,91.61 413.84,91.69 415.37,91.78 416.89,91.86 418.42,91.95 419.95,92.03 421.48,92.12 423.01,92.20 424.54,92.29 426.06,92.37 427.59,92.46 429.12,92.55 430.65,92.63 432.18,92.72 433.71,92.81 435.24,92.89 436.76,92.98 438.29,93.07 439.82,93.15 441.35,93.24 442.88,93.33 444.41,93.42 445.94,93.50 447.46,93.59 448.99,93.68 450.52,93.77 452.05,93.86 453.58,93.94 455.11,94.03 456.63,94.12 458.16,94.21 459.69,94.30 461.22,94.39 462.75,94.48 464.28,94.57 465.81,94.66 467.33,94.74 468.86,94.83 470.39,94.92 471.92,95.01 473.45,95.10 474.98,95.19 476.51,95.28 478.03,95.37 479.56,95.47 481.09,95.56 482.62,95.65 484.15,95.74 485.68,95.83 487.20,95.92 488.73,96.01 490.26,96.10 491.79,96.19 493.32,96.29 494.85,96.38 496.38,96.47 497.90,96.56 499.43,96.65 500.96,96.75 502.49,96.84 504.02,96.93 505.55,97.02 507.08,97.12 508.60,97.21 510.13,97.30 511.66,97.40 513.19,97.49 514.72,97.58 516.25,97.68 517.77,97.77 519.30,97.87 520.83,97.96 522.36,98.05 523.89,98.15 525.42,98.24 526.95,98.34 528.47,98.43 530.00,98.53 531.53,98.62 533.06,98.72 534.59,98.81 536.12,99.01 537.65,99.32 539.17,99.62 540.70,99.93 542.23,100.23 543.76,100.54 545.29,100.84" fill="none" stroke="#A2142F" stroke-width="0.75" stroke-opacity="0.7" stroke-linejoin="round"/>
<line x1="92.09" y1="72.07" x2="92.09" y2="80.79" stroke="#A2142F" stroke-width="1.0" stroke-opacity="0.75"/>
<line x1="99.73" y1="68.80" x2="99.73" y2="84.94" stroke="#A2142F" stroke-width="1.0" stroke-opacity="0.75"/>
<line x1="102.28" y1="69.67" x2="102.28" y2="84.07" stroke="#A2142F" stroke-width="1.0" stroke-opacity="0.75"/>
<line x1="104.83" y1="73.16" x2="104.83" y2="84.94" stroke="#A2142F" stroke-width="1.0" stroke-opacity="0.75"/>
<line x1="107.37" y1="74.47" x2="107.37" y2="78.83" stroke="#A2142F" stroke-width="1.0" stroke-opacity="0.75"/>
<line x1="109.92" y1="48.73" x2="109.92" y2="105.44" stroke="#A2142F" stroke-width="1.05" stroke-opacity="0.95"/>
<line x1="112.47" y1="36.07" x2="112.47" y2="119.41" stroke="#A2142F" stroke-width="1.05" stroke-opacity="0.95"/>
<polyline points="48.53,75.02 50.05,75.06 51.58,75.11 53.11,75.16 54.64,75.22 56.17,75.28 57.70,75.35 59.22,75.42 60.75,75.50 62.28,75.58 63.81,75.66 65.34,75.74 66.87,75.83 68.40,75.91 69.92,75.98 71.45,76.06 72.98,76.12 74.51,76.19 76.04,76.25 77.57,76.30 79.10,76.35 80.62,76.39 82.15,76.43 83.68,76.46 85.21,76.49 86.74,76.53 88.27,76.56 89.79,76.59 91.32,76.62 92.85,76.65 94.38,76.69 95.91,76.74 97.44,76.78 98.97,76.84 100.49,76.90 102.02,76.97 103.55,77.04 105.08,77.11 106.61,77.19 108.14,77.27 109.67,77.36 111.19,77.45 112.72,77.53 114.25,77.62 115.78,77.70 117.31,77.78 118.84,77.85 120.36,77.92 121.89,77.98 123.42,78.04 124.95,78.10 126.48,78.15 128.01,78.19 129.54,78.23 131.06,78.27 132.59,78.30 134.12,78.34 135.65,78.37 137.18,78.40 138.71,78.44 140.24,78.48 141.76,78.53 143.29,78.58 144.82,78.64 146.35,78.70 147.88,78.77 149.41,78.84 150.93,78.92 152.46,79.00 153.99,79.09 155.52,79.17 157.05,79.26 158.58,79.35 160.11,79.44 161.63,79.53 163.16,79.61 164.69,79.69 166.22,79.77 167.75,79.84 169.28,79.91 170.81,79.96 172.33,80.02 173.86,80.07 175.39,80.11 176.92,80.16 178.45,80.20 179.98,80.23 181.50,80.27 183.03,80.31 184.56,80.35 186.09,80.40 187.62,80.44 189.15,80.50 190.68,80.55 192.20,80.62 193.73,80.69 195.26,80.76 196.79,80.84 198.32,80.93 199.85,81.02 201.38,81.11 202.90,81.20 204.43,81.30 205.96,81.39 207.49,81.48 209.02,81.57 210.55,81.66 212.07,81.74 213.60,81.81 215.13,81.88 216.66,81.95 218.19,82.01 219.72,82.06 221.25,82.12 222.77,82.16 224.30,82.21 225.83,82.25 227.36,82.29 228.89,82.33 230.42,82.38 231.95,82.42 233.47,82.48 235.00,82.53 236.53,82.59 238.06,82.66 239.59,82.73 241.12,82.80 242.64,82.89 244.17,82.97 245.70,83.07 247.23,83.16 248.76,83.26 250.29,83.35 251.82,83.45 253.34,83.55 254.87,83.64 256.40,83.73 257.93,83.82 259.46,83.90 260.99,83.98 262.52,84.05 264.04,84.12 265.57,84.18 267.10,84.23 268.63,84.29 270.16,84.34 271.69,84.38 273.21,84.43 274.74,84.48 276.27,84.52 277.80,84.57 279.33,84.63 280.86,84.68 282.39,84.74 283.91,84.81 285.44,84.89 286.97,84.96 288.50,85.05 290.03,85.14 291.56,85.23 293.09,85.33 294.61,85.43 296.14,85.53 297.67,85.63 299.20,85.73 300.73,85.83 302.26,85.93 303.78,86.02 305.31,86.11 306.84,86.19 308.37,86.27 309.90,86.34 311.43,86.41 312.96,86.47 314.48,86.53 316.01,86.58 317.54,86.63 319.07,86.69 320.60,86.74 322.13,86.79 323.66,86.84 325.18,86.89 326.71,86.95 328.24,87.02 329.77,87.09 331.30,87.16 332.83,87.24 334.35,87.33 335.88,87.42 337.41,87.52 338.94,87.62 340.47,87.72 342.00,87.83 343.53,87.93 345.05,88.04 346.58,88.14 348.11,88.24 349.64,88.34 351.17,88.44 352.70,88.52 354.23,88.61 355.75,88.69 357.28,88.76 358.81,88.83 360.34,88.89 361.87,88.95 363.40,89.00 364.92,89.06 366.45,89.11 367.98,89.17 369.51,89.22 371.04,89.28 372.57,89.34 374.10,89.41 375.62,89.48 377.15,89.56 378.68,89.64 380.21,89.73 381.74,89.82 383.27,89.92 384.80,90.03 386.32,90.13 387.85,90.24 389.38,90.35 390.91,90.46 392.44,90.57 393.97,90.67 395.49,90.78 397.02,90.88 398.55,90.97 400.08,91.06 401.61,91.15 403.14,91.22 404.67,91.30 406.19,91.37 407.72,91.43 409.25,91.49 410.78,91.55 412.31,91.61 413.84,91.67 415.37,91.73 416.89,91.79 418.42,91.85 419.95,91.92 421.48,91.99 423.01,92.07 424.54,92.16 426.06,92.25 427.59,92.34 429.12,92.45 430.65,92.55 432.18,92.66 433.71,92.77 435.24,92.88 436.76,93.00 438.29,93.11 439.82,93.22 441.35,93.33 442.88,93.44 444.41,93.54 445.94,93.63 447.46,93.72 448.99,93.81 450.52,93.89 452.05,93.96 453.58,94.03 455.11,94.10 456.63,94.16 458.16,94.22 459.69,94.28 461.22,94.35 462.75,94.41 464.28,94.48 465.81,94.55 467.33,94.63 468.86,94.71 470.39,94.79 471.92,94.89 473.45,94.98 474.98,95.09 476.51,95.19 478.03,95.31 479.56,95.42 481.09,95.54 482.62,95.66 484.15,95.77 485.68,95.89 487.20,96.00 488.73,96.11 490.26,96.22 491.79,96.32 493.32,96.42 494.85,96.51 496.38,96.59 497.90,96.67 499.43,96.75 500.96,96.82 502.49,96.89 504.02,96.95 505.55,97.02 507.08,97.09 508.60,97.15 510.13,97.22 511.66,97.30 513.19,97.38 514.72,97.46 516.25,97.55 517.77,97.64 519.30,97.74 520.83,97.85 522.36,97.96 523.89,98.07 525.42,98.19 526.95,98.31 528.47,98.43 530.00,98.55 531.53,98.67 533.06,98.79 534.59,98.91 536.12,99.12 537.65,99.44 539.17,99.75 540.70,100.06 542.23,100.36 543.76,100.65 545.29,100.94" fill="none" stroke="#0072BD" stroke-width="0.75" stroke-opacity="0.8" stroke-linejoin="round"/>
</g>
<rect x="48.5" y="17.5" width="496.70000000000005" height="181.5" fill="none" stroke="#767676" stroke-width="1"/>
<line x1="92.09" y1="199.00" x2="92.09" y2="195.00" stroke="#4a4a4a" stroke-width="0.8" />
<line x1="92.09" y1="17.50" x2="92.09" y2="21.50" stroke="#4a4a4a" stroke-width="0.8" />
<text transform="translate(91.79,215.20) scale(1.31,1)" font-size="10.2" text-anchor="middle" fill="#0a0a0a" stroke="#0a0a0a" stroke-width="0.25">200</text>
<line x1="143.04" y1="199.00" x2="143.04" y2="195.00" stroke="#4a4a4a" stroke-width="0.8" />
<line x1="143.04" y1="17.50" x2="143.04" y2="21.50" stroke="#4a4a4a" stroke-width="0.8" />
<text transform="translate(142.74,215.20) scale(1.31,1)" font-size="10.2" text-anchor="middle" fill="#0a0a0a" stroke="#0a0a0a" stroke-width="0.25">400</text>
<line x1="193.99" y1="199.00" x2="193.99" y2="195.00" stroke="#4a4a4a" stroke-width="0.8" />
<line x1="193.99" y1="17.50" x2="193.99" y2="21.50" stroke="#4a4a4a" stroke-width="0.8" />
<text transform="translate(193.69,215.20) scale(1.31,1)" font-size="10.2" text-anchor="middle" fill="#0a0a0a" stroke="#0a0a0a" stroke-width="0.25">600</text>
<line x1="244.94" y1="199.00" x2="244.94" y2="195.00" stroke="#4a4a4a" stroke-width="0.8" />
<line x1="244.94" y1="17.50" x2="244.94" y2="21.50" stroke="#4a4a4a" stroke-width="0.8" />
<text transform="translate(244.64,215.20) scale(1.31,1)" font-size="10.2" text-anchor="middle" fill="#0a0a0a" stroke="#0a0a0a" stroke-width="0.25">800</text>
<line x1="295.89" y1="199.00" x2="295.89" y2="195.00" stroke="#4a4a4a" stroke-width="0.8" />
<line x1="295.89" y1="17.50" x2="295.89" y2="21.50" stroke="#4a4a4a" stroke-width="0.8" />
<text transform="translate(295.59,215.20) scale(1.31,1)" font-size="10.2" text-anchor="middle" fill="#0a0a0a" stroke="#0a0a0a" stroke-width="0.25">1000</text>
<line x1="346.84" y1="199.00" x2="346.84" y2="195.00" stroke="#4a4a4a" stroke-width="0.8" />
<line x1="346.84" y1="17.50" x2="346.84" y2="21.50" stroke="#4a4a4a" stroke-width="0.8" />
<text transform="translate(346.54,215.20) scale(1.31,1)" font-size="10.2" text-anchor="middle" fill="#0a0a0a" stroke="#0a0a0a" stroke-width="0.25">1200</text>
<line x1="397.79" y1="199.00" x2="397.79" y2="195.00" stroke="#4a4a4a" stroke-width="0.8" />
<line x1="397.79" y1="17.50" x2="397.79" y2="21.50" stroke="#4a4a4a" stroke-width="0.8" />
<text transform="translate(397.49,215.20) scale(1.31,1)" font-size="10.2" text-anchor="middle" fill="#0a0a0a" stroke="#0a0a0a" stroke-width="0.25">1400</text>
<line x1="448.74" y1="199.00" x2="448.74" y2="195.00" stroke="#4a4a4a" stroke-width="0.8" />
<line x1="448.74" y1="17.50" x2="448.74" y2="21.50" stroke="#4a4a4a" stroke-width="0.8" />
<text transform="translate(448.44,215.20) scale(1.31,1)" font-size="10.2" text-anchor="middle" fill="#0a0a0a" stroke="#0a0a0a" stroke-width="0.25">1600</text>
<line x1="499.69" y1="199.00" x2="499.69" y2="195.00" stroke="#4a4a4a" stroke-width="0.8" />
<line x1="499.69" y1="17.50" x2="499.69" y2="21.50" stroke="#4a4a4a" stroke-width="0.8" />
<text transform="translate(499.39,215.20) scale(1.31,1)" font-size="10.2" text-anchor="middle" fill="#0a0a0a" stroke="#0a0a0a" stroke-width="0.25">1800</text>
<line x1="48.50" y1="187.91" x2="53.50" y2="187.91" stroke="#4a4a4a" stroke-width="0.8" />
<line x1="545.20" y1="187.91" x2="540.20" y2="187.91" stroke="#4a4a4a" stroke-width="0.8" />
<text transform="translate(42.60,192.11) scale(1.31,1)" font-size="10.2" text-anchor="end" fill="#0a0a0a" stroke="#0a0a0a" stroke-width="0.25">1</text>
<line x1="48.50" y1="166.09" x2="53.50" y2="166.09" stroke="#4a4a4a" stroke-width="0.8" />
<line x1="545.20" y1="166.09" x2="540.20" y2="166.09" stroke="#4a4a4a" stroke-width="0.8" />
<text transform="translate(42.60,170.29) scale(1.31,1)" font-size="10.2" text-anchor="end" fill="#0a0a0a" stroke="#0a0a0a" stroke-width="0.25">1.5</text>
<line x1="48.50" y1="144.28" x2="53.50" y2="144.28" stroke="#4a4a4a" stroke-width="0.8" />
<line x1="545.20" y1="144.28" x2="540.20" y2="144.28" stroke="#4a4a4a" stroke-width="0.8" />
<text transform="translate(42.60,148.47) scale(1.31,1)" font-size="10.2" text-anchor="end" fill="#0a0a0a" stroke="#0a0a0a" stroke-width="0.25">2</text>
<line x1="48.50" y1="122.46" x2="53.50" y2="122.46" stroke="#4a4a4a" stroke-width="0.8" />
<line x1="545.20" y1="122.46" x2="540.20" y2="122.46" stroke="#4a4a4a" stroke-width="0.8" />
<text transform="translate(42.60,126.66) scale(1.31,1)" font-size="10.2" text-anchor="end" fill="#0a0a0a" stroke="#0a0a0a" stroke-width="0.25">2.5</text>
<line x1="48.50" y1="100.65" x2="53.50" y2="100.65" stroke="#4a4a4a" stroke-width="0.8" />
<line x1="545.20" y1="100.65" x2="540.20" y2="100.65" stroke="#4a4a4a" stroke-width="0.8" />
<text transform="translate(42.60,104.85) scale(1.31,1)" font-size="10.2" text-anchor="end" fill="#0a0a0a" stroke="#0a0a0a" stroke-width="0.25">3</text>
<line x1="48.50" y1="78.83" x2="53.50" y2="78.83" stroke="#4a4a4a" stroke-width="0.8" />
<line x1="545.20" y1="78.83" x2="540.20" y2="78.83" stroke="#4a4a4a" stroke-width="0.8" />
<text transform="translate(42.60,83.03) scale(1.31,1)" font-size="10.2" text-anchor="end" fill="#0a0a0a" stroke="#0a0a0a" stroke-width="0.25">3.5</text>
<line x1="48.50" y1="57.02" x2="53.50" y2="57.02" stroke="#4a4a4a" stroke-width="0.8" />
<line x1="545.20" y1="57.02" x2="540.20" y2="57.02" stroke="#4a4a4a" stroke-width="0.8" />
<text transform="translate(42.60,61.22) scale(1.31,1)" font-size="10.2" text-anchor="end" fill="#0a0a0a" stroke="#0a0a0a" stroke-width="0.25">4</text>
<line x1="48.50" y1="35.20" x2="53.50" y2="35.20" stroke="#4a4a4a" stroke-width="0.8" />
<line x1="545.20" y1="35.20" x2="540.20" y2="35.20" stroke="#4a4a4a" stroke-width="0.8" />
<text transform="translate(42.60,39.40) scale(1.31,1)" font-size="10.2" text-anchor="end" fill="#0a0a0a" stroke="#0a0a0a" stroke-width="0.25">4.5</text>
<text transform="translate(296.40,12.30) scale(1.253,1)" font-size="13.45" text-anchor="middle" fill="#0a0a0a" stroke="#0a0a0a" stroke-width="0.3">Carrier Measurement with CS and Doppler</text>
<text transform="translate(297.00,232.30) scale(1.25,1)" font-size="13.6" text-anchor="middle" fill="#0a0a0a" stroke="#0a0a0a" stroke-width="0.3">time (sec)</text>
<text transform="translate(16.30,108.25) scale(1.23,1) rotate(-90)" font-size="13.9" text-anchor="middle" fill="#0a0a0a" stroke="#0a0a0a" stroke-width="0.3">measurement (m)</text>
<rect x="418.9" y="24.7" width="117.10000000000002" height="102.3" fill="#fff" stroke="#767676" stroke-width="1"/>
<line x1="422.20" y1="32.30" x2="455.80" y2="32.30" stroke="#0072BD" stroke-width="0.8" stroke-opacity="0.75"/>
<text transform="translate(458.50,35.90) scale(1.245,1)" font-size="10.0" text-anchor="start" fill="#0a0a0a" stroke="#0a0a0a" stroke-width="0.25">sv 13</text>
<line x1="422.20" y1="44.80" x2="455.80" y2="44.80" stroke="#D95319" stroke-width="0.8" stroke-opacity="0.75"/>
<text transform="translate(458.50,48.40) scale(1.245,1)" font-size="10.0" text-anchor="start" fill="#0a0a0a" stroke="#0a0a0a" stroke-width="0.25">sv 13-doppler</text>
<line x1="422.20" y1="57.30" x2="455.80" y2="57.30" stroke="#EDB120" stroke-width="0.8" stroke-opacity="0.75"/>
<text transform="translate(458.50,60.90) scale(1.245,1)" font-size="10.0" text-anchor="start" fill="#0a0a0a" stroke="#0a0a0a" stroke-width="0.25">sv 5</text>
<line x1="422.20" y1="69.80" x2="455.80" y2="69.80" stroke="#7E2F8E" stroke-width="0.8" stroke-opacity="0.75"/>
<text transform="translate(458.50,73.40) scale(1.245,1)" font-size="10.0" text-anchor="start" fill="#0a0a0a" stroke="#0a0a0a" stroke-width="0.25">sv 5-doppler</text>
<line x1="422.20" y1="82.30" x2="455.80" y2="82.30" stroke="#77AC30" stroke-width="0.8" stroke-opacity="0.75"/>
<text transform="translate(458.50,85.90) scale(1.245,1)" font-size="10.0" text-anchor="start" fill="#0a0a0a" stroke="#0a0a0a" stroke-width="0.25">sv 7</text>
<line x1="422.20" y1="94.80" x2="455.80" y2="94.80" stroke="#4DBEEE" stroke-width="0.8" stroke-opacity="0.75"/>
<text transform="translate(458.50,98.40) scale(1.245,1)" font-size="10.0" text-anchor="start" fill="#0a0a0a" stroke="#0a0a0a" stroke-width="0.25">sv 7-doppler</text>
<line x1="422.20" y1="107.30" x2="455.80" y2="107.30" stroke="#A2142F" stroke-width="0.8" stroke-opacity="0.75"/>
<text transform="translate(458.50,110.90) scale(1.245,1)" font-size="10.0" text-anchor="start" fill="#0a0a0a" stroke="#0a0a0a" stroke-width="0.25">sv 9</text>
<line x1="422.20" y1="119.80" x2="455.80" y2="119.80" stroke="#0072BD" stroke-width="0.8" stroke-opacity="0.75"/>
<text transform="translate(458.50,123.40) scale(1.245,1)" font-size="10.0" text-anchor="start" fill="#0a0a0a" stroke="#0a0a0a" stroke-width="0.25">sv 9-doppler</text>
<line x1="79.90" y1="271.30" x2="79.90" y2="452.20" stroke="#e9e9e9" stroke-width="1" />
<line x1="135.53" y1="271.30" x2="135.53" y2="452.20" stroke="#e9e9e9" stroke-width="1" />
<line x1="191.15" y1="271.30" x2="191.15" y2="452.20" stroke="#e9e9e9" stroke-width="1" />
<line x1="246.78" y1="271.30" x2="246.78" y2="452.20" stroke="#e9e9e9" stroke-width="1" />
<line x1="302.40" y1="271.30" x2="302.40" y2="452.20" stroke="#e9e9e9" stroke-width="1" />
<line x1="358.03" y1="271.30" x2="358.03" y2="452.20" stroke="#e9e9e9" stroke-width="1" />
<line x1="413.65" y1="271.30" x2="413.65" y2="452.20" stroke="#e9e9e9" stroke-width="1" />
<line x1="469.28" y1="271.30" x2="469.28" y2="452.20" stroke="#e9e9e9" stroke-width="1" />
<line x1="524.90" y1="271.30" x2="524.90" y2="452.20" stroke="#e9e9e9" stroke-width="1" />
<line x1="48.50" y1="422.51" x2="545.00" y2="422.51" stroke="#f1f1f1" stroke-width="1" />
<line x1="48.50" y1="384.84" x2="545.00" y2="384.84" stroke="#f1f1f1" stroke-width="1" />
<line x1="48.50" y1="347.17" x2="545.00" y2="347.17" stroke="#f1f1f1" stroke-width="1" />
<line x1="48.50" y1="309.50" x2="545.00" y2="309.50" stroke="#f1f1f1" stroke-width="1" />
<line x1="48.50" y1="271.83" x2="545.00" y2="271.83" stroke="#f1f1f1" stroke-width="1" />
<g clip-path="url(#c2)">
<polyline points="48.19,416.69 49.31,415.75 50.42,416.39 51.53,415.29 52.64,415.98 53.76,414.96 54.87,415.45 55.98,414.73 57.09,414.84 58.21,414.55 59.32,414.21 60.43,414.37 61.54,413.61 62.66,414.13 63.77,413.10 64.88,413.78 65.99,412.70 67.11,413.32 68.22,412.41 69.33,412.76 70.44,412.21 71.56,412.13 72.67,412.03 73.78,411.51 74.89,411.83 76.01,410.94 77.12,411.55 78.23,410.47 79.34,411.16 80.46,410.12 81.57,410.65 82.68,409.87 83.79,410.05 84.91,409.69 86.02,409.42 87.13,409.51 88.24,408.81 89.36,409.28 90.47,408.28 91.58,408.96 92.69,407.86 93.81,408.51 94.92,407.56 96.03,407.96 97.14,407.34 98.26,407.34 99.37,407.17 100.48,406.71 101.59,406.98 102.71,406.13 103.82,406.71 104.93,405.64 106.04,406.34 107.16,405.27 108.27,405.85 109.38,405.01 110.49,405.26 111.61,404.82 112.72,404.63 113.83,404.65 114.94,404.01 116.06,404.43 117.17,403.47 118.28,404.13 119.39,403.03 120.51,403.70 121.62,402.71 122.73,403.16 123.84,402.48 124.96,402.55 126.07,402.31 127.18,401.92 128.29,402.12 129.41,401.33 130.52,401.87 131.63,400.82 132.74,401.51 133.86,400.43 134.97,401.04 136.08,400.16 137.19,400.47 138.31,399.96 139.42,399.84 140.53,399.79 141.64,399.22 142.76,399.58 143.87,398.65 144.98,399.29 146.09,398.20 147.21,398.88 148.32,397.86 149.43,398.36 150.54,397.62 151.66,397.76 152.77,397.44 153.88,397.13 154.99,397.26 156.11,396.52 157.22,397.03 158.33,396.00 159.44,396.69 160.56,395.60 161.67,396.23 162.78,395.30 163.89,395.67 165.01,395.10 166.12,395.05 167.23,394.93 168.34,394.42 169.46,394.73 170.57,393.85 171.68,394.45 172.79,393.37 173.91,394.07 175.02,393.02 176.13,393.56 177.24,392.76 178.36,392.97 179.47,392.58 180.58,392.34 181.69,392.40 182.81,391.72 183.92,392.18 185.03,391.19 186.14,391.89 187.26,390.82 188.37,391.50 189.48,390.56 190.59,391.01 191.71,390.40 192.82,390.45 193.93,390.28 195.04,389.87 196.16,390.15 197.27,389.34 198.38,389.94 199.49,388.91 200.61,389.63 201.72,388.58 202.83,389.20 203.94,388.37 205.06,388.67 206.17,388.24 207.28,388.09 208.39,388.12 209.51,387.53 210.62,387.96 211.73,387.03 212.84,387.71 213.96,386.64 215.07,387.35 216.18,386.37 217.29,386.87 218.41,386.20 219.52,386.32 220.63,386.08 221.74,385.74 222.86,385.95 223.97,385.20 225.08,385.76 226.19,384.74 227.31,385.46 228.42,384.40 229.53,385.05 230.64,384.18 231.76,384.53 232.87,384.03 233.98,383.96 235.09,383.91 236.21,383.39 237.32,383.77 238.43,382.88 239.54,383.53 240.66,382.47 241.77,383.19 242.88,382.18 243.99,382.73 245.11,382.00 246.22,382.18 247.33,381.87 248.44,381.60 249.56,381.75 250.67,381.05 251.78,381.57 252.89,380.58 254.01,381.29 255.12,380.22 256.23,380.89 257.34,379.98 258.46,380.39 259.57,379.83 260.68,379.83 261.79,379.71 262.91,379.25 264.02,379.57 265.13,378.73 266.24,379.35 267.36,378.30 268.47,379.02 269.58,377.99 270.69,378.58 271.81,377.79 272.92,378.05 274.03,377.66 275.14,377.47 276.26,377.54 277.37,376.91 278.48,377.38 279.59,376.42 280.71,377.12 281.82,376.05 282.93,376.74 284.04,375.79 285.16,376.25 286.27,375.62 287.38,375.69 288.49,375.50 289.61,375.11 290.72,375.37 291.83,374.58 292.94,375.17 294.06,374.14 295.17,374.86 296.28,373.81 297.39,374.43 298.51,373.59 299.62,373.91 300.73,373.46 301.84,373.33 302.96,373.34 304.07,372.77 305.18,373.18 306.29,372.27 307.41,372.94 308.52,371.87 309.63,372.58 310.74,371.59 311.86,372.11 312.97,371.42 314.08,371.56 315.19,371.29 316.31,370.98 317.42,371.17 318.53,370.43 319.64,370.98 320.76,369.98 321.87,370.71 322.98,369.66 324.09,370.33 325.21,369.46 326.32,369.85 327.43,369.34 328.54,369.30 329.66,369.25 330.77,368.76 331.88,369.13 332.99,368.27 334.11,368.93 335.22,367.89 336.33,368.62 337.44,367.62 338.56,368.19 339.67,367.45 340.78,367.68 341.89,367.35 343.01,367.12 344.12,367.26 345.23,366.60 346.34,367.11 347.46,366.15 348.57,366.87 349.68,365.81 350.79,366.50 351.91,365.59 353.02,366.03 354.13,365.46 355.24,365.50 356.36,365.37 357.47,364.95 358.58,365.26 359.69,364.45 360.81,365.07 361.92,364.04 363.03,364.78 364.14,363.76 365.26,364.37 366.37,363.58 367.48,363.86 368.59,363.47 369.71,363.32 370.82,363.38 371.93,362.78 373.04,363.24 374.16,362.32 375.27,363.02 376.38,361.96 377.49,362.67 378.61,361.72 379.72,362.22 380.83,361.58 381.94,361.69 383.06,361.49 384.17,361.14 385.28,361.38 386.39,360.63 387.51,361.21 388.62,360.20 389.73,360.94 390.84,359.90 391.96,360.54 393.07,359.70 394.18,360.05 395.29,359.59 396.41,359.51 397.52,359.50 398.63,358.97 399.74,359.38 400.86,358.49 401.97,359.16 403.08,358.11 404.19,358.84 405.31,357.86 406.42,358.40 407.53,357.70 408.64,357.88 409.76,357.60 410.87,357.33 411.98,357.51 413.09,356.81 414.21,357.35 415.32,356.37 416.43,357.09 417.54,356.04 418.66,356.72 419.77,355.83 420.88,356.24 421.99,355.71 423.11,355.70 424.22,355.62 425.33,355.15 426.44,355.50 427.56,354.66 428.67,355.31 429.78,354.27 430.89,355.00 432.01,353.99 433.12,354.58 434.23,353.83 435.34,354.07 436.46,353.72 437.57,353.52 438.68,353.63 439.79,352.99 440.91,353.49 442.02,352.53 443.13,353.25 444.24,352.19 445.36,352.89 446.47,351.96 447.58,352.42 448.69,351.83 449.81,351.89 450.92,351.74 452.03,351.35 453.14,351.64 454.26,350.85 455.37,351.47 456.48,350.45 457.59,351.19 458.71,350.17 459.82,350.80 460.93,349.99 462.04,350.30 463.16,349.89 464.27,349.76 465.38,349.81 466.49,349.24 467.61,349.69 468.72,348.78 469.83,349.47 470.94,348.42 472.06,349.14 473.17,348.19 474.28,348.70 475.39,348.05 476.51,348.18 477.62,347.96 478.73,347.64 479.84,347.87 480.96,347.14 482.07,347.72 483.18,346.72 484.29,347.45 485.41,346.41 486.52,347.08 487.63,346.22 488.74,346.60 489.86,346.11 490.97,346.06 492.08,346.03 493.19,345.53 494.31,345.92 495.42,345.05 496.53,345.72 497.64,344.68 498.76,345.41 499.87,344.43 500.98,344.99 502.09,344.28 503.21,344.48 504.32,344.19 505.43,343.94 506.54,344.10 507.66,343.42 508.77,343.96 509.88,342.99 510.99,343.71 512.11,342.66 513.22,343.35 514.33,342.46 515.44,342.89 516.56,342.34 517.67,342.36 518.78,342.26 519.89,341.82 521.01,342.15 522.12,341.33 523.23,341.97 524.34,340.94 525.46,341.68 526.57,340.67 527.68,341.27 528.79,340.50 529.91,340.77 531.02,340.41 532.13,340.23 533.24,340.32 534.36,339.71 535.47,340.19 536.58,339.26 537.69,339.97 538.81,338.92 539.92,339.63 541.03,338.69 542.14,339.18 543.26,338.56 544.37,338.66" fill="none" stroke="#0072BD" stroke-width="1.4" stroke-opacity="1" stroke-linejoin="round"/>
<line x1="129.96" y1="329.47" x2="129.96" y2="469.60" stroke="#0072BD" stroke-width="1.4" stroke-opacity="0.95"/>
<line x1="157.78" y1="324.57" x2="157.78" y2="460.18" stroke="#0072BD" stroke-width="1.4" stroke-opacity="0.95"/>
<line x1="163.34" y1="361.48" x2="163.34" y2="429.67" stroke="#0072BD" stroke-width="1.0" stroke-opacity="0.95"/>
<line x1="168.90" y1="323.44" x2="168.90" y2="460.18" stroke="#0072BD" stroke-width="1.4" stroke-opacity="0.95"/>
<line x1="248.44" y1="307.99" x2="248.44" y2="475.25" stroke="#0072BD" stroke-width="1.4" stroke-opacity="0.95"/>
<line x1="413.65" y1="283.13" x2="413.65" y2="428.91" stroke="#0072BD" stroke-width="1.4" stroke-opacity="0.95"/>
<line x1="174.00" y1="357.00" x2="174.00" y2="454.20" stroke="#0072BD" stroke-width="1.7" />
<line x1="179.50" y1="388.00" x2="179.50" y2="454.20" stroke="#DC8A2C" stroke-width="1.3" />
<polyline points="48.82,422.18 50.60,415.82 53.91,410.73 56.45,412.00 59.00,410.22 61.55,413.27 64.09,414.55 66.64,409.45 69.18,408.69 70.45,410.73 73.00,413.27 75.55,415.82 78.09,408.18 80.64,405.64 83.18,406.91 84.45,405.13 87.00,408.69 89.55,409.45 92.09,408.18 94.64,410.22 97.18,408.18 99.73,404.36 102.27,403.09 104.82,405.13 107.36,403.09 109.91,404.36 112.45,403.09 115.00,401.82 117.54,402.58 120.09,399.27 122.64,400.04 125.18,401.05 127.73,400.55 130.27,403.09 132.82,406.91 135.36,401.82 137.91,400.55 140.45,398.51 143.00,396.73 145.54,398.51 148.09,397.49 150.64,396.73 153.18,394.95 155.73,396.73 158.27,398.00 160.82,395.45 163.36,394.18 165.91,395.45 168.45,397.49 171.00,395.45 173.54,394.18 176.09,392.40 178.64,389.09 182.04,389.64 183.82,394.73 186.36,392.18 188.91,393.45 191.45,394.73 194.00,392.18 196.55,393.96 199.09,390.91 201.64,389.64 204.18,393.45 206.73,389.64 209.27,385.82 211.82,387.09 214.36,385.31 216.91,383.78 219.45,388.36 222.00,392.95 224.55,388.36 227.09,384.55 229.64,385.82 232.18,383.27 234.73,385.31 237.27,382.00 239.82,383.27 242.36,380.73 244.91,382.00 247.45,378.18 250.00,380.22 252.54,382.00 255.09,378.18 257.64,379.45 260.18,376.91 262.73,378.69 265.27,375.64 267.82,378.18 270.36,375.13 272.91,376.91 275.45,375.64 278.00,375.13 280.54,376.15 283.09,375.64 285.64,378.18 288.18,379.45 290.73,375.64 293.27,374.36 295.82,370.55 298.36,369.27 300.91,372.58 303.45,370.55 306.00,372.58 308.54,370.04 311.09,371.82 313.82,372.18 317.64,370.40 321.45,372.18 324.00,369.64 326.55,370.91 329.09,367.09 331.64,363.27 333.42,368.36 335.45,370.91 337.49,362.00 340.04,359.45 342.58,362.00 345.13,369.64 347.67,373.45 349.45,378.04 351.24,370.91 353.27,363.27 355.82,362.00 358.36,364.55 360.91,365.82 363.45,360.73 366.00,357.67 368.55,358.18 371.09,360.73 373.64,364.55 376.18,369.64 378.73,374.73 380.76,377.27 383.31,372.18 385.85,364.55 387.64,360.22 390.18,359.45 392.73,360.73 395.27,358.18 397.82,360.22 400.36,354.36 402.91,351.82 405.45,355.64 408.00,358.18 410.54,351.82 413.09,346.73 415.64,348.00 418.18,354.36 420.73,350.55 423.27,348.00 425.82,351.82 428.36,353.09 430.91,354.36 433.45,356.91 436.00,350.55 438.54,344.18 440.33,345.45 442.36,351.82 444.91,350.55 445.64,350.91 448.18,354.73 450.73,350.91 452.76,345.82 454.55,349.64 457.09,356.00 459.64,354.73 462.18,350.91 464.73,349.64 467.27,347.09 469.82,348.36 472.36,347.09 474.91,349.64 477.45,350.91 480.00,348.36 482.54,344.55 485.09,343.78 487.64,345.82 490.18,347.09 492.73,345.31 495.27,345.82 497.82,344.55 500.36,345.31 502.91,343.27 505.45,342.00 508.00,343.27 510.54,340.22 513.09,339.45 515.64,342.00 518.18,343.27 520.73,342.00 523.27,343.27 525.82,345.31 528.36,343.27 530.91,340.73 533.45,341.49 536.00,339.45 538.54,340.22 541.09,338.69 543.64,338.18" fill="none" stroke="#D95319" stroke-width="1.0" stroke-opacity="1" stroke-linejoin="round"/>
<line x1="173.50" y1="269.30" x2="173.50" y2="358.00" stroke="#A2142F" stroke-width="1.1" />
<line x1="174.50" y1="269.30" x2="174.50" y2="358.00" stroke="#4A3C9A" stroke-width="1.1" />
<line x1="179.00" y1="269.30" x2="179.00" y2="388.00" stroke="#A2142F" stroke-width="1.1" />
<line x1="180.00" y1="269.30" x2="180.00" y2="388.00" stroke="#2458B0" stroke-width="1.1" />
</g>
<rect x="48.5" y="271.3" width="496.5" height="180.89999999999998" fill="none" stroke="#767676" stroke-width="1"/>
<line x1="79.90" y1="452.20" x2="79.90" y2="448.20" stroke="#4a4a4a" stroke-width="0.8" />
<line x1="79.90" y1="271.30" x2="79.90" y2="275.30" stroke="#4a4a4a" stroke-width="0.8" />
<text transform="translate(79.60,468.50) scale(1.31,1)" font-size="10.2" text-anchor="middle" fill="#0a0a0a" stroke="#0a0a0a" stroke-width="0.25">100</text>
<line x1="135.53" y1="452.20" x2="135.53" y2="448.20" stroke="#4a4a4a" stroke-width="0.8" />
<line x1="135.53" y1="271.30" x2="135.53" y2="275.30" stroke="#4a4a4a" stroke-width="0.8" />
<text transform="translate(135.23,468.50) scale(1.31,1)" font-size="10.2" text-anchor="middle" fill="#0a0a0a" stroke="#0a0a0a" stroke-width="0.25">200</text>
<line x1="191.15" y1="452.20" x2="191.15" y2="448.20" stroke="#4a4a4a" stroke-width="0.8" />
<line x1="191.15" y1="271.30" x2="191.15" y2="275.30" stroke="#4a4a4a" stroke-width="0.8" />
<text transform="translate(190.85,468.50) scale(1.31,1)" font-size="10.2" text-anchor="middle" fill="#0a0a0a" stroke="#0a0a0a" stroke-width="0.25">300</text>
<line x1="246.78" y1="452.20" x2="246.78" y2="448.20" stroke="#4a4a4a" stroke-width="0.8" />
<line x1="246.78" y1="271.30" x2="246.78" y2="275.30" stroke="#4a4a4a" stroke-width="0.8" />
<text transform="translate(246.48,468.50) scale(1.31,1)" font-size="10.2" text-anchor="middle" fill="#0a0a0a" stroke="#0a0a0a" stroke-width="0.25">400</text>
<line x1="302.40" y1="452.20" x2="302.40" y2="448.20" stroke="#4a4a4a" stroke-width="0.8" />
<line x1="302.40" y1="271.30" x2="302.40" y2="275.30" stroke="#4a4a4a" stroke-width="0.8" />
<text transform="translate(302.10,468.50) scale(1.31,1)" font-size="10.2" text-anchor="middle" fill="#0a0a0a" stroke="#0a0a0a" stroke-width="0.25">500</text>
<line x1="358.03" y1="452.20" x2="358.03" y2="448.20" stroke="#4a4a4a" stroke-width="0.8" />
<line x1="358.03" y1="271.30" x2="358.03" y2="275.30" stroke="#4a4a4a" stroke-width="0.8" />
<text transform="translate(357.73,468.50) scale(1.31,1)" font-size="10.2" text-anchor="middle" fill="#0a0a0a" stroke="#0a0a0a" stroke-width="0.25">600</text>
<line x1="413.65" y1="452.20" x2="413.65" y2="448.20" stroke="#4a4a4a" stroke-width="0.8" />
<line x1="413.65" y1="271.30" x2="413.65" y2="275.30" stroke="#4a4a4a" stroke-width="0.8" />
<text transform="translate(413.35,468.50) scale(1.31,1)" font-size="10.2" text-anchor="middle" fill="#0a0a0a" stroke="#0a0a0a" stroke-width="0.25">700</text>
<line x1="469.28" y1="452.20" x2="469.28" y2="448.20" stroke="#4a4a4a" stroke-width="0.8" />
<line x1="469.28" y1="271.30" x2="469.28" y2="275.30" stroke="#4a4a4a" stroke-width="0.8" />
<text transform="translate(468.98,468.50) scale(1.31,1)" font-size="10.2" text-anchor="middle" fill="#0a0a0a" stroke="#0a0a0a" stroke-width="0.25">800</text>
<line x1="524.90" y1="452.20" x2="524.90" y2="448.20" stroke="#4a4a4a" stroke-width="0.8" />
<line x1="524.90" y1="271.30" x2="524.90" y2="275.30" stroke="#4a4a4a" stroke-width="0.8" />
<text transform="translate(524.60,468.50) scale(1.31,1)" font-size="10.2" text-anchor="middle" fill="#0a0a0a" stroke="#0a0a0a" stroke-width="0.25">900</text>
<line x1="48.50" y1="422.51" x2="53.50" y2="422.51" stroke="#4a4a4a" stroke-width="0.8" />
<line x1="545.00" y1="422.51" x2="540.00" y2="422.51" stroke="#4a4a4a" stroke-width="0.8" />
<text transform="translate(42.60,426.71) scale(1.31,1)" font-size="10.2" text-anchor="end" fill="#0a0a0a" stroke="#0a0a0a" stroke-width="0.25">2.8</text>
<line x1="48.50" y1="384.84" x2="53.50" y2="384.84" stroke="#4a4a4a" stroke-width="0.8" />
<line x1="545.00" y1="384.84" x2="540.00" y2="384.84" stroke="#4a4a4a" stroke-width="0.8" />
<text transform="translate(42.60,389.04) scale(1.31,1)" font-size="10.2" text-anchor="end" fill="#0a0a0a" stroke="#0a0a0a" stroke-width="0.25">2.9</text>
<line x1="48.50" y1="347.17" x2="53.50" y2="347.17" stroke="#4a4a4a" stroke-width="0.8" />
<line x1="545.00" y1="347.17" x2="540.00" y2="347.17" stroke="#4a4a4a" stroke-width="0.8" />
<text transform="translate(42.60,351.37) scale(1.31,1)" font-size="10.2" text-anchor="end" fill="#0a0a0a" stroke="#0a0a0a" stroke-width="0.25">3</text>
<line x1="48.50" y1="309.50" x2="53.50" y2="309.50" stroke="#4a4a4a" stroke-width="0.8" />
<line x1="545.00" y1="309.50" x2="540.00" y2="309.50" stroke="#4a4a4a" stroke-width="0.8" />
<text transform="translate(42.60,313.70) scale(1.31,1)" font-size="10.2" text-anchor="end" fill="#0a0a0a" stroke="#0a0a0a" stroke-width="0.25">3.1</text>
<line x1="48.50" y1="271.83" x2="53.50" y2="271.83" stroke="#4a4a4a" stroke-width="0.8" />
<line x1="545.00" y1="271.83" x2="540.00" y2="271.83" stroke="#4a4a4a" stroke-width="0.8" />
<text transform="translate(42.60,276.03) scale(1.31,1)" font-size="10.2" text-anchor="end" fill="#0a0a0a" stroke="#0a0a0a" stroke-width="0.25">3.2</text>
<text transform="translate(296.80,265.60) scale(1.262,1)" font-size="13.45" text-anchor="middle" fill="#0a0a0a" stroke="#0a0a0a" stroke-width="0.3">Carrier Measurement with CS and Doppler (Zoom-In)</text>
<text transform="translate(297.00,485.50) scale(1.25,1)" font-size="13.6" text-anchor="middle" fill="#0a0a0a" stroke="#0a0a0a" stroke-width="0.3">time (sec)</text>
<text transform="translate(16.30,361.75) scale(1.23,1) rotate(-90)" font-size="13.9" text-anchor="middle" fill="#0a0a0a" stroke="#0a0a0a" stroke-width="0.3">measurement (m)</text>
</g>
</svg>
</body></html>
